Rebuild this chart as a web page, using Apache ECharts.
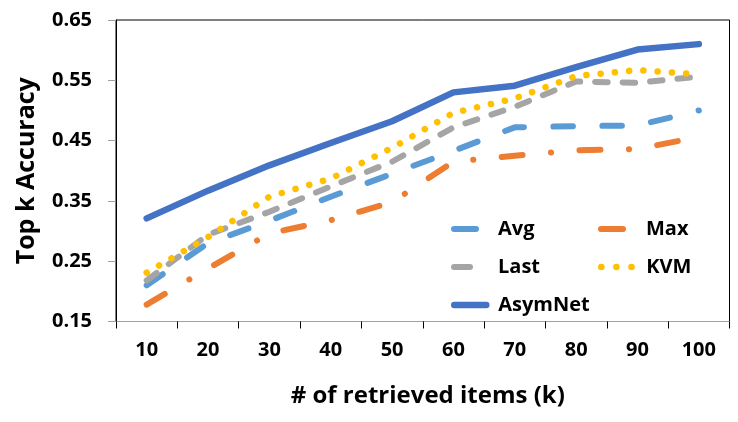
<!DOCTYPE html>
<html>
<head>
<meta charset="utf-8">
<title>Top k Accuracy</title>
<script src="https://cdn.jsdelivr.net/npm/echarts@6/dist/echarts.min.js"></script>
<style>
    html, body { margin: 0; padding: 0; background: #fff; }
    #charts { width: 738px; height: 422px; }
</style>
</head>
<body>
<div id="charts"></div>
<script>
// x categories (k)
var categories = ['10', '20', '30', '40', '50', '60', '70', '80', '90', '100'];
// y tick labels
var yTicks = [0.15, 0.25, 0.35, 0.45, 0.55, 0.65];

// series values
var avgData = [0.210, 0.280, 0.317, 0.357, 0.395, 0.433, 0.472, 0.474, 0.475, 0.500];
var maxData = [0.178, 0.238, 0.296, 0.318, 0.348, 0.415, 0.425, 0.434, 0.436, 0.456];
var lastData = [0.218, 0.294, 0.332, 0.374, 0.415, 0.472, 0.506, 0.548, 0.546, 0.556];
var kvmData = [0.231, 0.290, 0.357, 0.387, 0.438, 0.496, 0.520, 0.557, 0.567, 0.560];
var asymData = [0.321, 0.367, 0.409, 0.446, 0.482, 0.530, 0.541, 0.572, 0.601, 0.610];

var FONT = 'Open Sans';
var charts;

function getECharts() {
    if (charts != undefined) {
        return charts;
    }
    charts = echarts.init(document.getElementById('charts'), null, {renderer: 'canvas'});
    return charts;
}

/*
 * one line series
 */
function lineSeries(name, data, color, width, dash, z) {
    return {
        name: name,
        type: 'line',
        data: data,
        symbol: 'none',
        z: z,
        itemStyle: {color: color},
        lineStyle: {color: color, width: width, type: dash, cap: 'round', join: 'round'}
    };
}

/*
 * one legend entry, placed by hand (two columns like the figure)
 */
function legendItem(name, left, centerY, iconWidth, textPad, lineStyle) {
    return {
        data: [name],
        left: left,
        top: centerY - 12,
        padding: 0,
        itemWidth: iconWidth,
        itemHeight: 24,
        selectedMode: false,
        itemStyle: {opacity: 0},
        lineStyle: lineStyle,
        textStyle: {
            fontFamily: FONT, fontWeight: 'bold', fontSize: 20, color: '#000',
            lineHeight: 20, padding: [0, 0, 0, textPad]
        }
    };
}

function buildOption() {
    return {
        animation: false,
        backgroundColor: '#fff',
        grid: {
            left: 116, right: 8.5, top: 20, bottom: 100.5,
            show: true, borderColor: '#000', borderWidth: 1
        },
        legend: [
            legendItem('Avg', 451, 231, 22, 17, {width: 6, type: 'solid', cap: 'round'}),
            legendItem('Last', 451, 269, 30, 9, {width: 6, type: [16, 14, 0.1, 50], cap: 'round'}),
            legendItem('AsymNet', 451, 307, 32, 7, {width: 6.5, type: 'solid', cap: 'round'}),
            legendItem('Max', 598, 231, 22, 18, {width: 6, type: 'solid', cap: 'round'}),
            legendItem('KVM', 598, 269, 30.5, 9.5, {width: 6.5, type: [0.1, 15], cap: 'round'})
        ],
        xAxis: {
            type: 'category',
            data: categories,
            boundaryGap: true,
            name: '# of retrieved items (k)',
            nameLocation: 'middle',
            nameGap: 63,
            nameTextStyle: {
                fontFamily: FONT, fontWeight: 'bold', fontSize: 24, color: '#000',
                padding: [0, 0, 0, 10]
            },
            axisLine: {lineStyle: {color: '#a0a0a0', width: 1}},
            axisTick: {show: true, alignWithLabel: false, length: 7, lineStyle: {color: '#000'}},
            axisLabel: {
                margin: 19, fontFamily: FONT, fontWeight: 'bold', fontSize: 20, color: '#000'
            },
            splitLine: {show: false}
        },
        yAxis: {
            type: 'value',
            min: 0.15,
            max: 0.65,
            name: 'Top k Accuracy',
            nameLocation: 'middle',
            nameGap: 77,
            nameTextStyle: {fontFamily: FONT, fontWeight: 'bold', fontSize: 25, color: '#000'},
            axisLine: {show: true, lineStyle: {color: '#000', width: 1}},
            axisTick: {show: true, length: 8, customValues: yTicks, lineStyle: {color: '#a0a0a0'}},
            axisLabel: {
                margin: 24, customValues: yTicks,
                fontFamily: FONT, fontWeight: 'bold', fontSize: 20, color: '#000',
                formatter: function (v) { return v.toFixed(2); }
            },
            splitLine: {show: false}
        },
        series: [
            lineSeries('Avg', avgData, '#5B9BD5', 6, [19.5, 29.5], 2),
            lineSeries('Max', maxData, '#ED7D31', 6, [21, 28.5, 0.1, 28.5], 2),
            lineSeries('Last', lastData, '#A5A5A5', 6, [12.5, 15], 3),
            lineSeries('KVM', kvmData, '#FFC000', 6.5, [0.1, 14.2], 4),
            lineSeries('AsymNet', asymData, '#4472C4', 6.5, 'solid', 5)
        ]
    };
}

getECharts().setOption(buildOption());
</script>
</body>
</html>
